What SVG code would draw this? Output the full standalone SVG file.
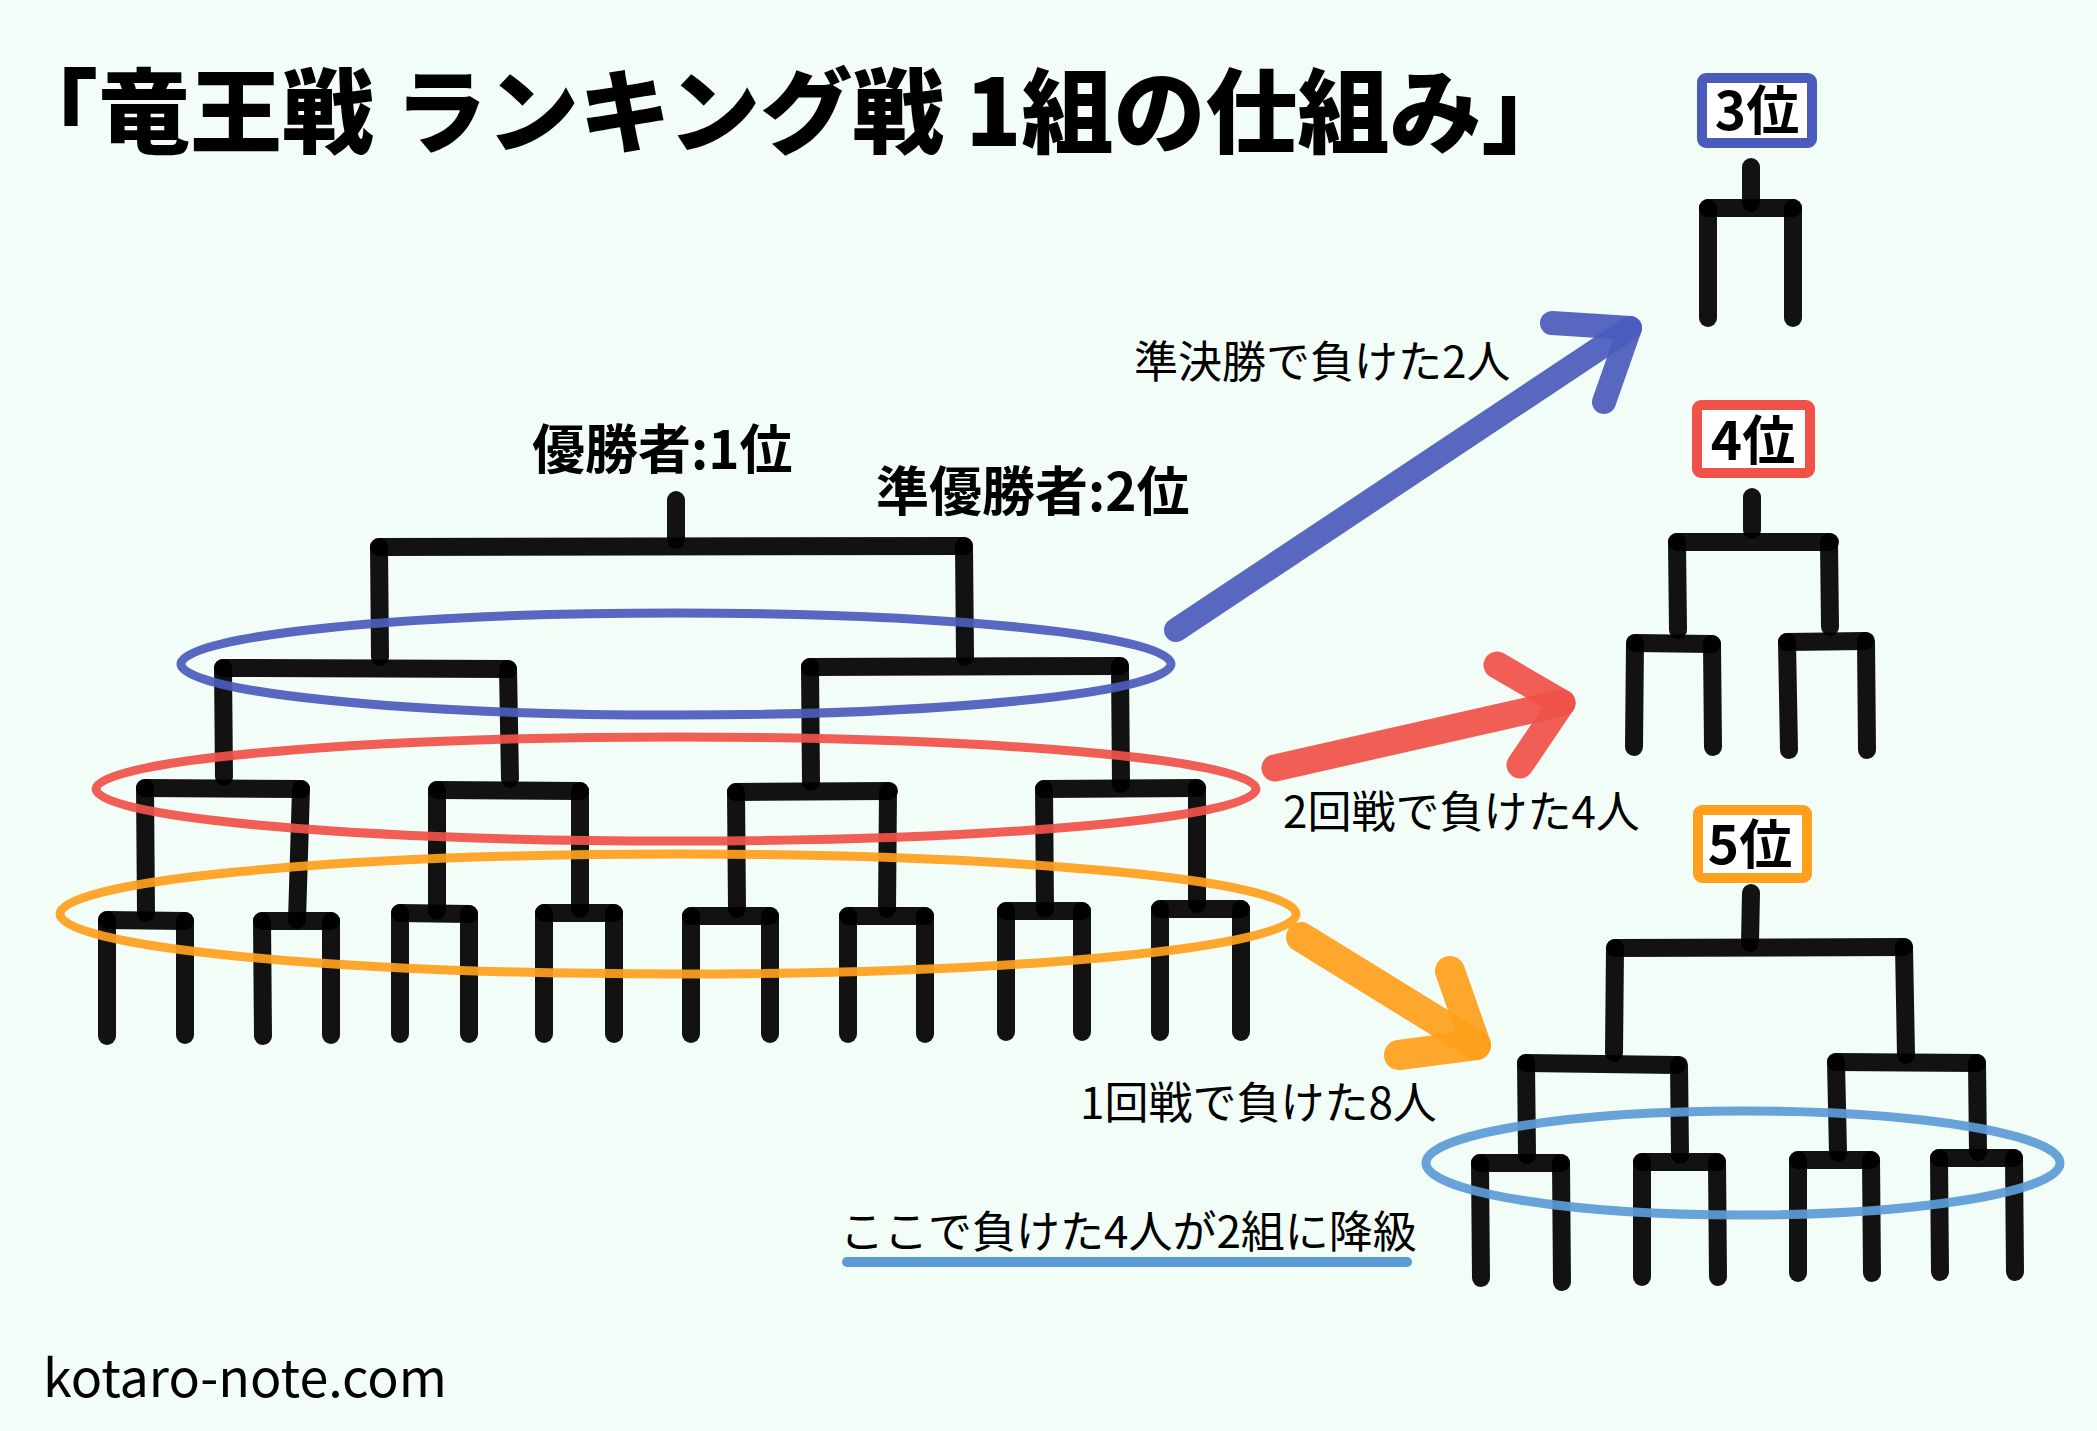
<svg xmlns="http://www.w3.org/2000/svg" width="2097" height="1431" viewBox="0 0 2097 1431">
<style>
text{font-family:"Noto Sans CJK JP","Noto Sans",sans-serif;fill:#000}
.t{font-size:92px;font-weight:900}
.b{font-size:53px;font-weight:700}
.r{font-size:44px;font-weight:400}
.k line{stroke:#000;stroke-opacity:.93;stroke-width:18;stroke-linecap:round;fill:none}
.e{fill:none;stroke-width:9;stroke-opacity:.93}
.a path{fill:none;stroke-linecap:round;stroke-linejoin:round;stroke-opacity:.93}
.bx{fill:#fff;stroke-width:10}
</style>
<rect width="2097" height="1431" fill="#F3FDF7"/>
<g id="title"><text class="t" x="6" y="146" xml:space="preserve">「竜王戦 ランキング戦 1組の仕組み」</text></g>

<g id="main-bracket" class="k">
<line x1="676" y1="500" x2="676" y2="540"/>
<line x1="379" y1="547" x2="964" y2="546"/>
<line x1="379" y1="547" x2="380" y2="657"/>
<line x1="964" y1="546" x2="965" y2="657"/>
<line x1="223" y1="668" x2="508" y2="669"/>
<line x1="223" y1="668" x2="224" y2="777"/>
<line x1="508" y1="669" x2="510" y2="779"/>
<line x1="810" y1="667" x2="1120" y2="666"/>
<line x1="810" y1="667" x2="811" y2="782"/>
<line x1="1120" y1="666" x2="1121" y2="784"/>
<line x1="145" y1="788" x2="301" y2="789"/>
<line x1="145" y1="788" x2="146" y2="913"/>
<line x1="301" y1="789" x2="297" y2="920"/>
<line x1="437" y1="790" x2="580" y2="791"/>
<line x1="437" y1="790" x2="437" y2="911"/>
<line x1="580" y1="791" x2="580" y2="909"/>
<line x1="736" y1="792" x2="889" y2="791"/>
<line x1="736" y1="792" x2="737" y2="909"/>
<line x1="888" y1="791" x2="887" y2="909"/>
<line x1="1044" y1="789" x2="1197" y2="788"/>
<line x1="1044" y1="789" x2="1045" y2="909"/>
<line x1="1197" y1="788" x2="1197" y2="904"/>
<line x1="107" y1="920" x2="185" y2="921"/>
<line x1="107" y1="920" x2="107" y2="1036"/>
<line x1="185" y1="921" x2="185" y2="1035"/>
<line x1="262" y1="921" x2="331" y2="921"/>
<line x1="262" y1="921" x2="263" y2="1036"/>
<line x1="331" y1="921" x2="331" y2="1035"/>
<line x1="400" y1="913" x2="469" y2="914"/>
<line x1="400" y1="913" x2="400" y2="1034"/>
<line x1="469" y1="914" x2="469" y2="1034"/>
<line x1="544" y1="913" x2="614" y2="913"/>
<line x1="544" y1="913" x2="544" y2="1034"/>
<line x1="614" y1="913" x2="614" y2="1034"/>
<line x1="691" y1="916" x2="770" y2="916"/>
<line x1="691" y1="916" x2="691" y2="1034"/>
<line x1="770" y1="916" x2="770" y2="1034"/>
<line x1="848" y1="916" x2="925" y2="916"/>
<line x1="848" y1="916" x2="848" y2="1034"/>
<line x1="925" y1="916" x2="925" y2="1034"/>
<line x1="1006" y1="911" x2="1082" y2="911"/>
<line x1="1006" y1="911" x2="1006" y2="1032"/>
<line x1="1082" y1="911" x2="1082" y2="1032"/>
<line x1="1160" y1="909" x2="1241" y2="909"/>
<line x1="1160" y1="909" x2="1160" y2="1032"/>
<line x1="1241" y1="909" x2="1241" y2="1032"/>
</g>

<g id="rounds">
<ellipse class="e" cx="676" cy="664" rx="495" ry="51" stroke="#4B5BBB"/>
<ellipse class="e" cx="676" cy="789" rx="580" ry="52" stroke="#F05248"/>
<ellipse class="e" cx="678" cy="914" rx="618" ry="60" stroke="#FF9F1C"/>
</g>

<g id="label-1st"><text class="b" x="532" y="469">優勝者:1位</text></g>
<g id="label-2nd"><text class="b" x="876" y="511">準優勝者:2位</text></g>

<g id="place3">
<rect class="bx" x="1702" y="78" width="110" height="65" rx="4" stroke="#4B5BBB"/>
<text class="b" x="1757" y="130" text-anchor="middle">3位</text>
<g class="k">
<line x1="1751" y1="167" x2="1751" y2="203"/>
<line x1="1708" y1="208" x2="1793" y2="208"/>
<line x1="1708" y1="208" x2="1708" y2="318"/>
<line x1="1793" y1="208" x2="1793" y2="318"/>
</g>
</g>

<g id="place4">
<rect class="bx" x="1697" y="405" width="113" height="68" rx="4" stroke="#F05248"/>
<text class="b" x="1753" y="460" text-anchor="middle">4位</text>
<g class="k">
<line x1="1752" y1="497" x2="1752" y2="530"/>
<line x1="1677" y1="542" x2="1830" y2="542"/>
<line x1="1677" y1="542" x2="1678" y2="630"/>
<line x1="1829" y1="542" x2="1830" y2="627"/>
<line x1="1635" y1="643" x2="1712" y2="644"/>
<line x1="1635" y1="643" x2="1634" y2="747"/>
<line x1="1712" y1="644" x2="1713" y2="747"/>
<line x1="1787" y1="642" x2="1865" y2="641"/>
<line x1="1787" y1="642" x2="1789" y2="750"/>
<line x1="1866" y1="641" x2="1867" y2="750"/>
</g>
</g>

<g id="place5">
<rect class="bx" x="1698" y="810" width="109" height="68" rx="4" stroke="#FF9F1C"/>
<text class="b" x="1750" y="864" text-anchor="middle">5位</text>
<g class="k">
<line x1="1751" y1="893" x2="1750" y2="943"/>
<line x1="1615" y1="948" x2="1904" y2="947"/>
<line x1="1615" y1="948" x2="1614" y2="1053"/>
<line x1="1904" y1="947" x2="1906" y2="1055"/>
<line x1="1526" y1="1063" x2="1677" y2="1065"/>
<line x1="1526" y1="1063" x2="1527" y2="1155"/>
<line x1="1679" y1="1065" x2="1680" y2="1155"/>
<line x1="1836" y1="1062" x2="1977" y2="1063"/>
<line x1="1836" y1="1062" x2="1838" y2="1153"/>
<line x1="1977" y1="1063" x2="1978" y2="1152"/>
<line x1="1480" y1="1163" x2="1561" y2="1163"/>
<line x1="1480" y1="1163" x2="1481" y2="1278"/>
<line x1="1561" y1="1163" x2="1562" y2="1282"/>
<line x1="1642" y1="1162" x2="1717" y2="1162"/>
<line x1="1642" y1="1162" x2="1642" y2="1277"/>
<line x1="1717" y1="1162" x2="1718" y2="1277"/>
<line x1="1798" y1="1160" x2="1871" y2="1160"/>
<line x1="1798" y1="1160" x2="1798" y2="1273"/>
<line x1="1871" y1="1160" x2="1872" y2="1273"/>
<line x1="1939" y1="1158" x2="2014" y2="1158"/>
<line x1="1939" y1="1158" x2="1940" y2="1272"/>
<line x1="2014" y1="1158" x2="2015" y2="1272"/>
</g>
<ellipse class="e" cx="1743" cy="1163" rx="317" ry="52" stroke="#5B9BD5"/>
</g>

<g id="connectors" class="a">
<path d="M1176,630 L1630,328" stroke="#4B5BBB" stroke-width="24"/>
<path d="M1552,323 L1630,328 L1604,402" stroke="#4B5BBB" stroke-width="24"/>
<path d="M1275,768 L1562,703" stroke="#F05248" stroke-width="27"/>
<path d="M1497,665 L1562,703 L1520,765" stroke="#F05248" stroke-width="27"/>
<path d="M1301,937 L1476,1045" stroke="#FF9F1C" stroke-width="30"/>
<path d="M1450,971 L1476,1045 L1399,1055" stroke="#FF9F1C" stroke-width="30"/>
</g>

<g id="label-semi"><text class="r" x="1134" y="378">準決勝で負けた2人</text></g>
<g id="label-r2"><text class="r" x="1283" y="828">2回戦で負けた4人</text></g>
<g id="label-r1"><text class="r" x="1080" y="1119">1回戦で負けた8人</text></g>
<g id="label-demote">
<text class="r" x="840" y="1248">ここで負けた4人が2組に降級</text>
<line x1="847" y1="1262" x2="1407" y2="1262" stroke="#5B9BD5" stroke-width="10" stroke-linecap="round"/>
</g>
<g id="footer"><text x="43" y="1397" font-size="52">kotaro-note.com</text></g>
</svg>
